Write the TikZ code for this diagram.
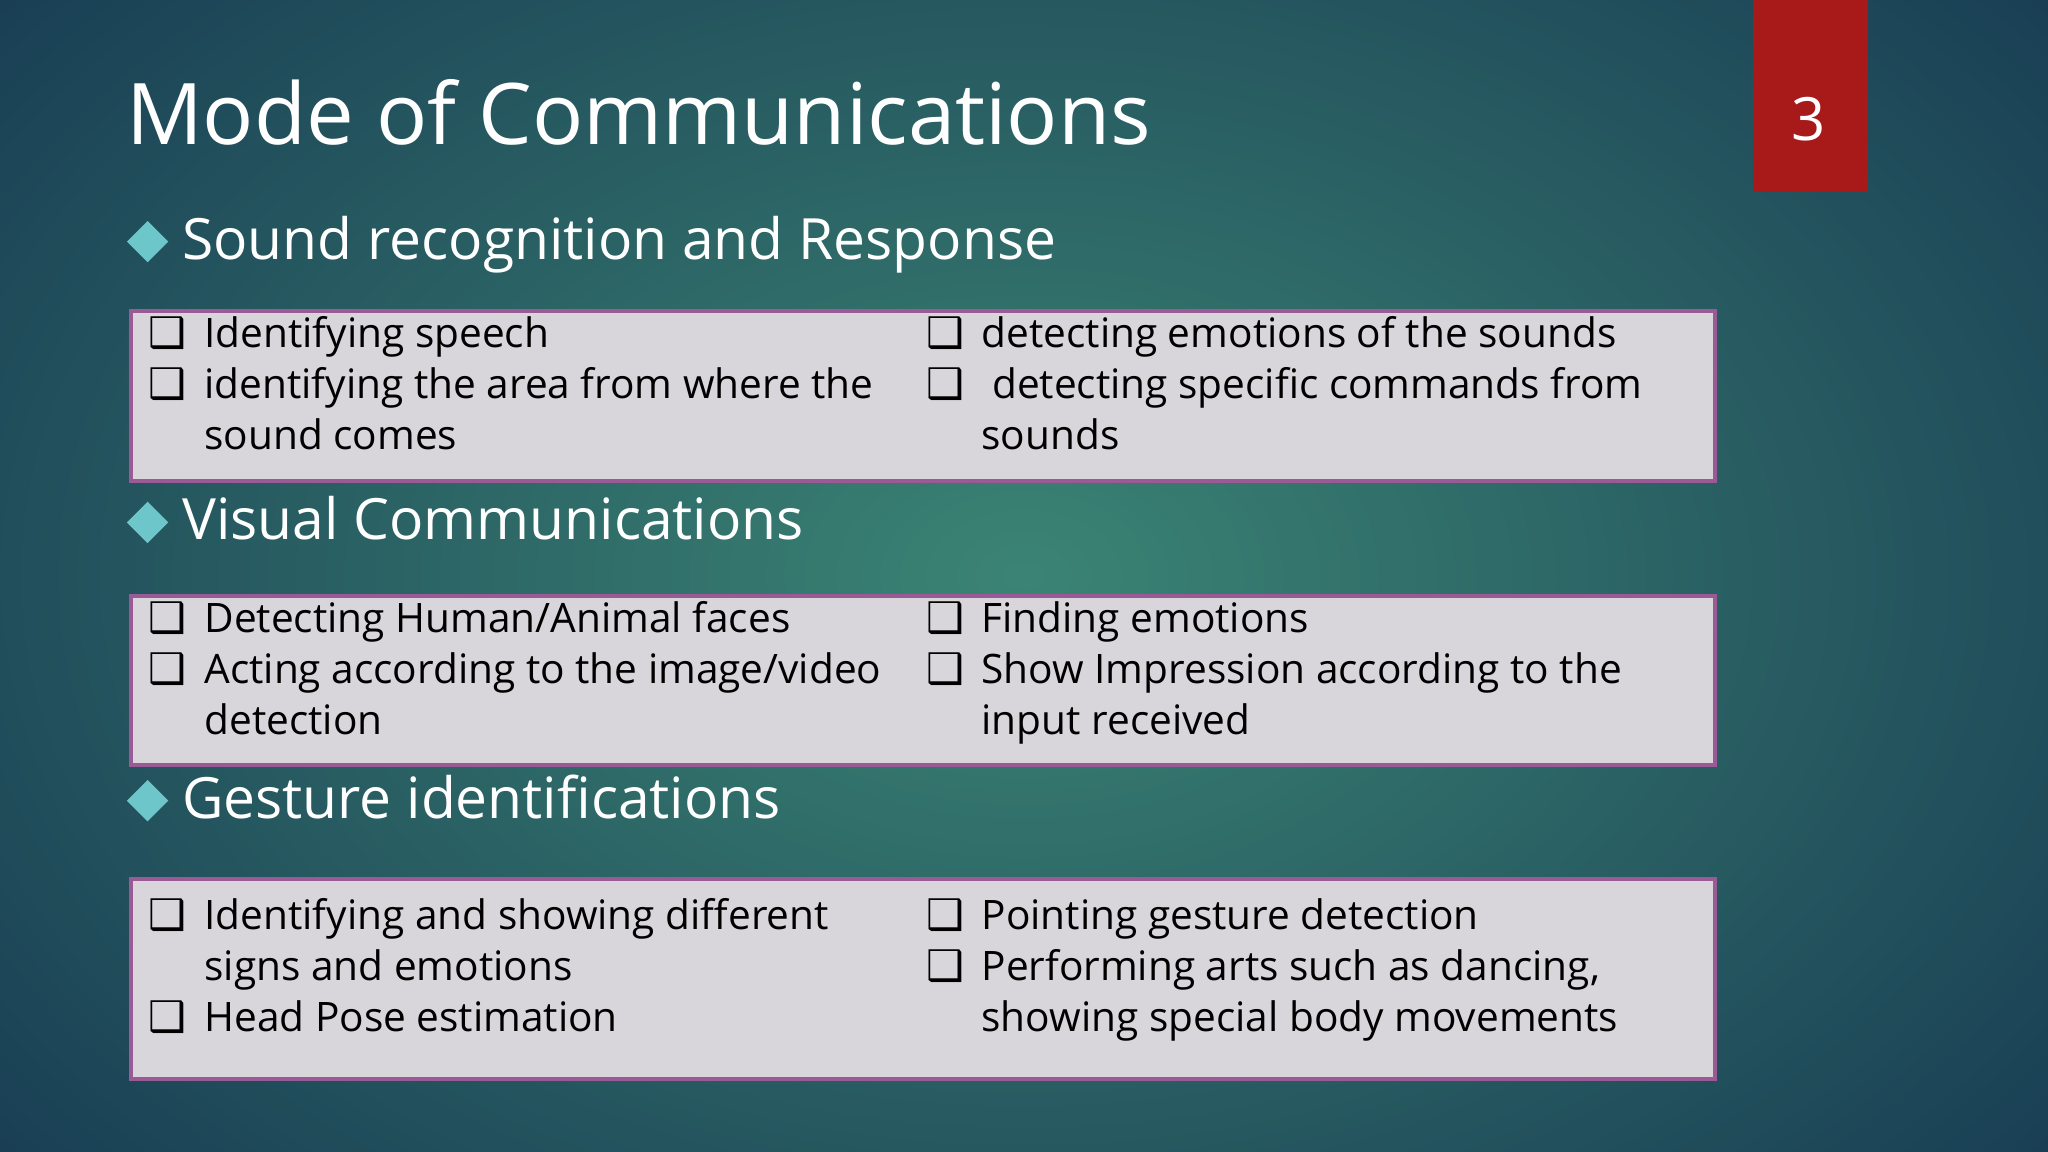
\documentclass[tikz,border=0pt]{standalone}
\usepackage{fontspec}
\setmainfont{Open Sans}
\newfontfamily\symf{DejaVu Sans}
\definecolor{bgc}{HTML}{3B8474}
\definecolor{bge}{HTML}{173A52}
\definecolor{redb}{HTML}{A8191A}
\definecolor{boxf}{HTML}{D8D6DA}
\definecolor{boxd}{HTML}{9A5A96}
\definecolor{diam}{HTML}{6DC6CA}
\tikzset{
 bx/.style={fill=boxf,draw=boxd,line width=1.1pt},
 ln/.style={anchor=base west,inner sep=0pt,font=\fontsize{11.55pt}{14pt}\selectfont,text=black},
 cb/.style={anchor=base west,inner sep=0pt,font=\symf\bfseries\fontsize{12pt}{14pt}\selectfont,text=black},
 hd/.style={anchor=base west,inner sep=0pt,font=\fontsize{16.2pt}{20pt}\selectfont,text=white},
 dm/.style={fill=diam,minimum size=0.42cm,inner sep=0pt,diamond,aspect=1}
}
\usetikzlibrary{shapes.geometric}
\begin{document}
\begin{tikzpicture}[x=0.0130612cm,y=-0.0130612cm]
\useasboundingbox (0,0) rectangle (1568,882);
\shade[inner color=bgc,outer color=bge] (-300,-300) rectangle (1868,1182);
\fill[redb] (1342,0) rectangle (1430,147);
\node[text=white,font=\fontsize{17pt}{20pt}\selectfont] (num) at (1385,91) {3};
\node[anchor=base west,inner sep=0pt,text=white,font=\fontsize{24.2pt}{30pt}\selectfont] (title) at (96,111) {Mode of Communications};
% section 1
\node[dm] (d1) at (113,185) {};
\node[hd] (h1) at (139,199) {Sound recognition and Response};
\draw[bx] (100,238) rectangle (1313,368);
\node[cb] (c11) at (113,266) {❑}; \node[ln] (t11) at (156,266) {Identifying speech};
\node[cb] (c12) at (113,305) {❑}; \node[ln] (t12) at (156,305) {identifying the area from where the};
\node[ln] (t13) at (156,344) {sound comes};
\node[cb] (c14) at (709,266) {❑}; \node[ln] (t14) at (751,266) {detecting emotions of the sounds};
\node[cb] (c15) at (709,305) {❑}; \node[ln] (t15) at (751,305) {\ detecting specific commands from};
\node[ln] (t16) at (751,344) {sounds};
% section 2
\node[dm] (d2) at (113,400) {};
\node[hd] (h2) at (139,413) {Visual Communications};
\draw[bx] (100,456) rectangle (1313,586);
\node[cb] (c21) at (113,484) {❑}; \node[ln] (t21) at (156,484) {Detecting Human/Animal faces};
\node[cb] (c22) at (113,523) {❑}; \node[ln] (t22) at (156,523) {Acting according to the image/video};
\node[ln] (t23) at (156,562) {detection};
\node[cb] (c24) at (709,484) {❑}; \node[ln] (t24) at (751,484) {Finding emotions};
\node[cb] (c25) at (709,523) {❑}; \node[ln] (t25) at (751,523) {Show Impression according to the};
\node[ln] (t26) at (751,562) {input received};
% section 3
\node[dm] (d3) at (113,613) {};
\node[hd] (h3) at (139,627) {Gesture identifications};
\draw[bx] (100,673) rectangle (1313,826);
\node[cb] (c31) at (113,712) {❑}; \node[ln] (t31) at (156,712) {Identifying and showing different};
\node[ln] (t32) at (156,751) {signs and emotions};
\node[cb] (c33) at (113,790) {❑}; \node[ln] (t33) at (156,790) {Head Pose estimation};
\node[cb] (c34) at (709,712) {❑}; \node[ln] (t34) at (751,712) {Pointing gesture detection};
\node[cb] (c35) at (709,751) {❑}; \node[ln] (t35) at (751,751) {Performing arts such as dancing,};
\node[ln] (t36) at (751,790) {showing special body movements};
\end{tikzpicture}
\end{document}
